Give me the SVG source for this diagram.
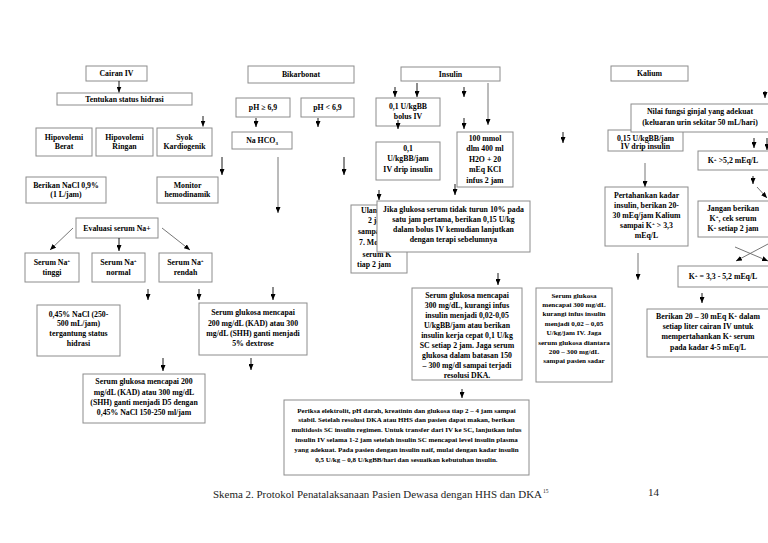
<svg xmlns="http://www.w3.org/2000/svg" width="768" height="543" viewBox="0 0 768 543">
<style>
.b{fill:#fff;stroke:#8c8c8c;stroke-width:1}
.t{font-family:"Liberation Serif","Times New Roman",serif;font-size:7.8px;font-weight:bold;text-anchor:middle;fill:#000}
.l{text-anchor:start}
.s{font-size:7px}
.h{font-size:7.1px}
.c{stroke:#000;stroke-width:0.9;fill:none}
.g{stroke:#666;stroke-width:0.9;fill:none}
.cap{font-family:"Liberation Serif","Times New Roman",serif;fill:#222}
</style>
<defs>
<marker id="ah" markerWidth="6" markerHeight="5" refX="6" refY="2.5" orient="auto" markerUnits="userSpaceOnUse"><path d="M0,0 L6,2.5 L0,5 z" fill="#000"/></marker>
<clipPath id="ulclip"><rect x="351" y="205" width="26" height="47"/></clipPath>
</defs>
<rect width="768" height="543" fill="#fff"/>

<g id="cairan-iv"><rect class="b" x="86" y="66" width="61" height="15"/><text class="t" x="116.5" y="76.2">Cairan IV</text></g>
<g id="tentukan"><rect class="b" x="57" y="93" width="135" height="12"/><text class="t" x="124.5" y="101.7">Tentukan status hidrasi</text></g>
<g id="hipo-berat"><rect class="b" x="36" y="128" width="56" height="28"/><text class="t" x="64" y="139.5">Hipovolemi</text><text class="t" x="64" y="149.3">Berat</text></g>
<g id="hipo-ringan"><rect class="b" x="96" y="128" width="57" height="28"/><text class="t" x="124.5" y="139.5">Hipovolemi</text><text class="t" x="124.5" y="149.3">Ringan</text></g>
<g id="syok"><rect class="b" x="157" y="128" width="55" height="28"/><text class="t" x="184.5" y="139.5">Syok</text><text class="t" x="184.5" y="149.3">Kardiogenik</text></g>
<g id="nacl09"><rect class="b" x="26" y="177" width="80" height="26"/><text class="t" x="66" y="187.5">Berikan NaCl 0,9%</text><text class="t" x="66" y="197.3">(1 L/jam)</text></g>
<g id="monitor"><rect class="b" x="157" y="177" width="61" height="26"/><text class="t" x="187.5" y="187.5">Monitor</text><text class="t" x="187.5" y="197.3">hemodinamik</text></g>
<g id="evaluasi"><rect class="b" x="76" y="218" width="82" height="20"/><text class="t" x="117" y="230.7">Evaluasi serum Na+</text></g>
<g id="na-tinggi"><rect class="b" x="25" y="253" width="54" height="29"/><text class="t" x="52" y="264.7">Serum Na<tspan dy="-2.7" font-size="5">+</tspan></text><text class="t" x="52" y="274.5">tinggi</text></g>
<g id="na-normal"><rect class="b" x="92" y="253" width="53" height="29"/><text class="t" x="118.5" y="264.7">Serum Na<tspan dy="-2.7" font-size="5">+</tspan></text><text class="t" x="118.5" y="274.5">normal</text></g>
<g id="na-rendah"><rect class="b" x="159" y="253" width="53" height="29"/><text class="t" x="185.5" y="264.7">Serum Na<tspan dy="-2.7" font-size="5">+</tspan></text><text class="t" x="185.5" y="274.5">rendah</text></g>
<g id="nacl045"><rect class="b" x="37" y="305" width="83" height="51"/><text class="t" x="78.5" y="316.7">0,45% NaCl (250-</text><text class="t" x="78.5" y="326.4">500 mL/jam)</text><text class="t" x="78.5" y="336.1">tergantung status</text><text class="t" x="78.5" y="345.8">hidrasi</text></g>
<g id="d5"><rect class="b" x="83" y="374" width="122" height="49"/><text class="t" x="144" y="384.3">Serum glukosa mencapai 200</text><text class="t" x="144" y="394.5">mg/dL (KAD) atau 300 mg/dL</text><text class="t" x="144" y="404.7">(SHH) ganti menjadi D5 dengan</text><text class="t" x="144" y="414.9">0,45% NaCl 150-250 ml/jam</text></g>
<g id="dextrose"><rect class="b" x="199" y="303" width="108" height="52"/><text class="t" x="253" y="315.3">Serum glukosa mencapai</text><text class="t" x="253" y="325.5">200 mg/dL (KAD) atau 300</text><text class="t" x="253" y="335.7">mg/dL (SHH) ganti menjadi</text><text class="t" x="253" y="345.9">5% dextrose</text></g>

<g id="bikarbonat"><rect class="b" x="248" y="66" width="106" height="17"/><text class="t" x="301" y="77.2">Bikarbonat</text></g>
<g id="ph-ge"><rect class="b" x="236" y="98" width="54" height="19"/><text class="t" x="263" y="110.2">pH ≥ 6,9</text></g>
<g id="ph-lt"><rect class="b" x="301" y="98" width="53" height="19"/><text class="t" x="327.5" y="110.2">pH &lt; 6,9</text></g>
<g id="nahco3"><rect class="b" x="232" y="132" width="60" height="17"/><text class="t" x="262" y="143.2">Na HCO<tspan dy="1.6" font-size="5">3</tspan></text></g>

<g id="insulin"><rect class="b" x="401" y="67" width="99" height="14"/><text class="t" x="450.5" y="76.7">Insulin</text></g>
<g id="bolus"><rect class="b" x="376" y="98" width="64" height="28"/><text class="t" x="408" y="109.3">0,1 U/kgBB</text><text class="t" x="408" y="119.3">bolus IV</text></g>
<g id="drip01"><rect class="b" x="376" y="142" width="64" height="38"/><text class="t" x="408" y="150.8">0,1</text><text class="t" x="408" y="161.3">U/kgBB/jam</text><text class="t" x="408" y="171.8">IV drip insulin</text></g>
<g id="kcl"><rect class="b" x="457" y="132" width="56" height="55"/><text class="t" x="485" y="140.8">100 mmol</text><text class="t" x="485" y="151.3">dlm 400 ml</text><text class="t" x="485" y="161.8">H2O + 20</text><text class="t" x="485" y="172.3">mEq KCl</text><text class="t" x="485" y="182.8">infus 2 jam</text></g>
<g id="ulangi"><rect class="b" x="351" y="205" width="56" height="68"/>
<g clip-path="url(#ulclip)"><text class="t l" x="361" y="213">Ulangi</text><text class="t l" x="368" y="223">2 jam</text><text class="t l" x="358" y="234">sampai</text><text class="t l" x="359" y="244.5">7. Monitor</text></g>
<text class="t" x="377" y="257.3">serum K</text><text class="t" x="374" y="266.8">tiap 2 jam</text></g>
<g id="jika"><rect class="b" x="377" y="201" width="153" height="51"/><text class="t" x="453.5" y="211.9">Jika glukosa serum tidak turun 10% pada</text><text class="t" x="453.5" y="221.9">satu jam pertama, berikan 0,15 U/kg</text><text class="t" x="453.5" y="231.9">dalam bolus IV kemudian lanjutkan</text><text class="t" x="453.5" y="241.9">dengan terapi sebelumnya</text></g>
<g id="dka-glukosa"><rect class="b" x="412" y="288" width="110" height="92"/>
<text class="t" x="467" y="297.6">Serum glukosa mencapai</text><text class="t" x="467" y="307.6">300 mg/dL, kurangi infus</text><text class="t" x="467" y="317.6">insulin menjadi 0,02-0,05</text><text class="t" x="467" y="327.6">U/kgBB/jam atau berikan</text><text class="t" x="467" y="337.6">insulin kerja cepat 0,1 U/kg</text><text class="t" x="467" y="347.6">SC setiap 2 jam. Jaga serum</text><text class="t" x="467" y="357.6">glukosa dalam batasan 150</text><text class="t" x="467" y="367.6">– 300 mg/dl sampai terjadi</text><text class="t" x="467" y="377.6">resolusi DKA.</text></g>
<g id="hhs-glukosa"><rect class="b" x="536" y="288" width="76" height="94"/>
<text class="t h" x="574" y="297.6">Serum glukosa</text><text class="t h" x="574" y="307">mencapai 300 mg/dL</text><text class="t h" x="574" y="316.4">kurangi infus insulin</text><text class="t h" x="574" y="325.8">menjadi 0,02 – 0,05</text><text class="t h" x="574" y="335.2">U/kg/jam IV. Jaga</text><text class="t h" x="574" y="344.6">serum glukosa diantara</text><text class="t h" x="574" y="354">200 – 300 mg/dL</text><text class="t h" x="574" y="363.4">sampai pasien sadar</text></g>

<g id="kalium"><rect class="b" x="611" y="66" width="77" height="15"/><text class="t" x="649.5" y="76.2">Kalium</text></g>
<g id="drip015"><rect class="b" x="608" y="130" width="75" height="21"/><text class="t" x="645.5" y="140.8">0,15 U/kgBB/jam</text><text class="t" x="645.5" y="149.3">IV drip insulin</text></g>
<g id="nilai"><rect class="b" x="631" y="104" width="140" height="28"/><text class="t" x="700" y="114.3">Nilai fungsi ginjal yang adekuat</text><text class="t" x="700" y="124.8">(keluaran urin sekitar 50 mL/hari)</text></g>
<g id="k-high"><rect class="b" x="698" y="151" width="71" height="19"/><text class="t" x="733" y="163.2">K<tspan dy="-2.7" font-size="5">+</tspan><tspan dy="2.7"> &gt;5,2 mEq/L</tspan></text></g>
<g id="pertahankan"><rect class="b" x="605" y="187" width="83" height="59"/><text class="t" x="646.5" y="197.6">Pertahankan kadar</text><text class="t" x="646.5" y="207.6">insulin, berikan 20-</text><text class="t" x="646.5" y="217.6">30 mEq/jam Kalium</text><text class="t" x="646.5" y="227.6">sampai K<tspan dy="-2.7" font-size="5">+</tspan><tspan dy="2.7"> &gt; 3,3</tspan></text><text class="t" x="646.5" y="237.6">mEq/L</text></g>
<g id="jangan"><rect class="b" x="698" y="201" width="71" height="36"/><text class="t" x="733" y="210.9">Jangan berikan</text><text class="t" x="733" y="221.1">K<tspan dy="-2.7" font-size="5">+</tspan><tspan dy="2.7">, cek serum</tspan></text><text class="t" x="733" y="231.3">K<tspan dy="-2.7" font-size="5">+</tspan><tspan dy="2.7"> setiap 2 jam</tspan></text></g>
<g id="k-normal"><rect class="b" x="678" y="266" width="92" height="21"/><text class="t" x="723" y="279.2">K<tspan dy="-2.7" font-size="5">+</tspan><tspan dy="2.7"> = 3,3 - 5,2 mEq/L</tspan></text></g>
<g id="berikan2030"><rect class="b" x="647" y="309" width="122" height="48"/><text class="t" x="708" y="319.3">Berikan 20 – 30 mEq K<tspan dy="-2.7" font-size="5">+</tspan><tspan dy="2.7"> dalam</tspan></text><text class="t" x="708" y="329.3">setiap liter cairan IV untuk</text><text class="t" x="708" y="339.3">mempertahankan K<tspan dy="-2.7" font-size="5">+</tspan><tspan dy="2.7"> serum</tspan></text><text class="t" x="708" y="349.8">pada kadar 4-5 mEq/L</text></g>

<g id="periksa"><rect class="b" x="284" y="400" width="245" height="75"/>
<text class="t s" x="406.5" y="412.5">Periksa elektrolit, pH darah, kreatinin dan glukosa tiap 2 – 4 jam sampai</text>
<text class="t s" x="406.5" y="422.3">stabil. Setelah resolusi DKA atau HHS dan pasien dapat makan, berikan</text>
<text class="t s" x="406.5" y="432.1">multidosis SC insulin regimen. Untuk transfer dari IV ke SC, lanjutkan infus</text>
<text class="t s" x="406.5" y="441.9">insulin IV selama 1-2 jam setelah insulin SC mencapai level insulin plasma</text>
<text class="t s" x="406.5" y="451.7">yang adekuat. Pada pasien dengan insulin naif, mulai dengan kadar insulin</text>
<text class="t s" x="406.5" y="461.5">0,5 U/kg – 0,8 U/kgBB/hari dan sesuaikan kebutuhan insulin.</text></g>

<g id="connectors">
<line class="c" x1="119" y1="81" x2="119" y2="92.5" marker-end="url(#ah)"/>
<line class="c" x1="203" y1="116" x2="203" y2="126.5" marker-end="url(#ah)"/>
<line class="c" x1="222" y1="157" x2="222" y2="175" marker-end="url(#ah)"/>
<line class="g" x1="73" y1="228" x2="50" y2="250" marker-end="url(#ah)"/>
<line class="c" x1="119" y1="238" x2="119" y2="251" marker-end="url(#ah)"/>
<line class="g" x1="162" y1="228" x2="190" y2="250" marker-end="url(#ah)"/>
<line class="c" x1="148" y1="289" x2="148" y2="300" marker-end="url(#ah)"/>
<line class="c" x1="199" y1="289" x2="199" y2="300" marker-end="url(#ah)"/>
<line class="c" x1="163" y1="358" x2="163" y2="371" marker-end="url(#ah)"/>
<line class="c" x1="251" y1="358" x2="251" y2="370" marker-end="url(#ah)"/>
<line class="c" x1="273" y1="287" x2="273" y2="300" marker-end="url(#ah)"/>
<line class="g" x1="278" y1="157" x2="278" y2="213" marker-end="url(#ah)"/>
<line class="c" x1="256" y1="118" x2="256" y2="127" marker-end="url(#ah)"/>
<line class="c" x1="318" y1="118" x2="318" y2="127" marker-end="url(#ah)"/>
<line class="c" x1="344" y1="157" x2="344" y2="175" marker-end="url(#ah)"/>
<line class="c" x1="395" y1="87" x2="395" y2="97" marker-end="url(#ah)"/>
<line class="c" x1="417" y1="83" x2="417" y2="97" marker-end="url(#ah)"/>
<line class="c" x1="464" y1="87" x2="464" y2="97" marker-end="url(#ah)"/>
<line class="g" x1="488" y1="83" x2="488" y2="125" marker-end="url(#ah)"/>
<line class="c" x1="398" y1="120" x2="398" y2="129" marker-end="url(#ah)"/>
<line class="c" x1="464" y1="118" x2="464" y2="129" marker-end="url(#ah)"/>
<line class="c" x1="379" y1="190" x2="379" y2="200" marker-end="url(#ah)"/>
<line class="c" x1="455" y1="184" x2="455" y2="195" marker-end="url(#ah)"/>
<line class="c" x1="498" y1="273" x2="498" y2="285" marker-end="url(#ah)"/>
<line class="c" x1="462" y1="389" x2="462" y2="398" marker-end="url(#ah)"/>
<line class="c" x1="563" y1="132" x2="563" y2="143" marker-end="url(#ah)"/>
<line class="g" x1="645" y1="163" x2="645" y2="187" marker-end="url(#ah)"/>
<line class="c" x1="765" y1="91" x2="765" y2="98" marker-end="url(#ah)"/>
<line class="c" x1="754" y1="138" x2="754" y2="148" marker-end="url(#ah)"/>
<line class="c" x1="767" y1="138" x2="767" y2="150" marker-end="url(#ah)"/>
<line class="c" x1="753" y1="176" x2="753" y2="184" marker-end="url(#ah)"/>
<line class="g" x1="757" y1="187" x2="767" y2="198" marker-end="url(#ah)"/>
<line class="g" x1="638" y1="253" x2="638" y2="280" marker-end="url(#ah)"/>
<line class="g" x1="768" y1="244" x2="736" y2="261" marker-end="url(#ah)"/>
<line class="g" x1="735" y1="247" x2="768" y2="261" marker-end="url(#ah)"/>
<line class="c" x1="702" y1="293" x2="702" y2="303" marker-end="url(#ah)"/>
</g>

<text class="cap" x="213" y="498" style="font-size:10.5px" textLength="329" lengthAdjust="spacingAndGlyphs">Skema 2. Protokol Penatalaksanaan Pasien Dewasa dengan HHS dan DKA</text>
<text class="cap" x="543" y="493" style="font-size:5.5px">15</text>
<text class="cap" x="648" y="496" style="font-size:11px">14</text>
</svg>
